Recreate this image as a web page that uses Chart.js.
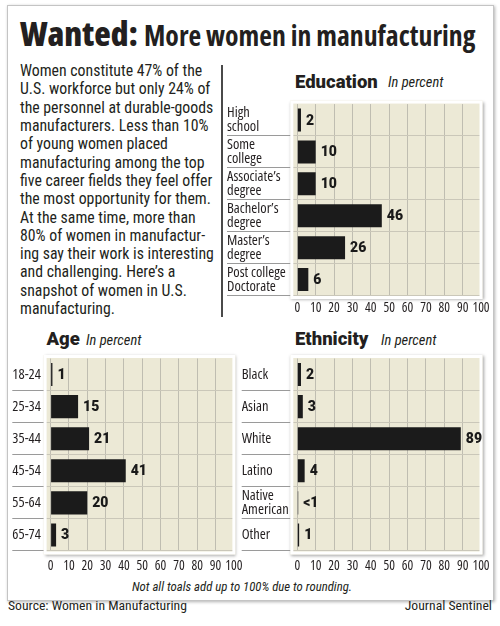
<!DOCTYPE html>
<html>
<head>
<meta charset="utf-8">
<script src="https://cdn.jsdelivr.net/npm/chart.js@4.4.1/dist/chart.umd.min.js"></script>
<style>
  body { margin: 0; width: 500px; height: 626px; overflow: hidden; background: #fff; color: #231f20;
         font-family: "Roboto Condensed", sans-serif; position: relative; }
  .t { position: absolute; line-height: 1; white-space: nowrap; }
  .frame { position: absolute; left: 7px; top: 5px; width: 485px; height: 594px; border: 1px solid #c4c4c4;
           box-shadow: 1px 1px 3px rgba(0,0,0,0.3); }
  .rule { position: absolute; left: 221px; top: 65px; width: 1.5px; height: 252px; background: #4a4a4a; }
  .big { font-family: "Open Sans", sans-serif; font-stretch: 75%; }
  .head { font-family: Roboto, sans-serif; font-weight: 900; font-size: 18.5px; }
  .sub { font-style: italic; font-size: 14.5px; }
  #story { position: absolute; left: 20px; top: 62.2px; font-size: 15.8px; line-height: 18.3px; white-space: nowrap; }
  canvas { position: absolute; }
</style>
</head>
<body>
<div class="frame"></div>
<div class="t big" style="left:20px;top:16px;font-size:34px;font-weight:800;">Wanted:</div>
<div class="t big" style="left:144px;top:21.9px;font-size:27.7px;font-weight:700;">More women in manufacturing</div>

<div id="story">Women constitute 47% of the<br>U.S. workforce but only 24% of<br>the personnel at durable-goods<br>manufacturers. Less than 10%<br>of young women placed<br>manufacturing among the top<br>five career fields they feel offer<br>the most opportunity for them.<br>At the same time, more than<br>80% of women in manufactur-<br>ing say their work is interesting<br>and challenging. Here’s a<br>snapshot of women in U.S.<br>manufacturing.</div>
<div class="rule"></div>

<div class="t head" style="left:295px;top:72.7px;">Education</div>
<div class="t sub" style="left:388px;top:75.8px;">In percent</div>
<div class="t head" style="left:46.5px;top:330.4px;">Age</div>
<div class="t sub" style="left:86px;top:333.8px;">In percent</div>
<div class="t head" style="left:295px;top:330.4px;">Ethnicity</div>
<div class="t sub" style="left:381px;top:333.8px;">In percent</div>

<div class="t sub" style="left:0;width:484px;text-align:center;top:581px;font-size:12.8px;">Not all toals add up to 100% due to rounding.</div>
<div class="t" style="left:8px;top:598.5px;font-size:13.7px;">Source: Women in Manufacturing</div>
<div class="t" style="right:8px;top:598.5px;font-size:13.7px;">Journal Sentinel</div>

<canvas id="edu" width="280" height="235" style="left:220px;top:90px;"></canvas>
<canvas id="age" width="250" height="240" style="left:0;top:348px;"></canvas>
<canvas id="eth" width="270" height="240" style="left:230px;top:348px;"></canvas>

<script>
const xTicks = [0, 10, 20, 30, 40, 50, 60, 70, 80, 90, 100];

const eduLabels = [['High', 'school'], ['Some', 'college'], ['Associate’s', 'degree'],
                   ['Bachelor’s', 'degree'], ['Master’s', 'degree'], ['Post college', 'Doctorate']];
const eduValues = [2, 10, 10, 46, 26, 6];
const eduText = ['2', '10', '10', '46', '26', '6'];

const ageLabels = ['18-24', '25-34', '35-44', '45-54', '55-64', '65-74'];
const ageValues = [1, 15, 21, 41, 20, 3];
const ageText = ['1', '15', '21', '41', '20', '3'];

const ethLabels = ['Black', 'Asian', 'White', 'Latino', ['Native', 'American'], 'Other'];
const ethValues = [2, 3, 89, 4, 0.5, 1];
const ethText = ['2', '3', '89', '4', '<1', '1'];

// "condensed" goes into the canvas font string as font-stretch
const labelFont = { family: '"Open Sans", sans-serif', weight: 'condensed', size: 14.5, lineHeight: 0.97 };
const tickFont = { family: '"Open Sans", sans-serif', weight: 'condensed', size: 13.5 };

// beige plot box with white edge
const boxPlugin = {
  id: 'box',
  beforeDraw(chart) {
    const a = chart.chartArea, c = chart.ctx;
    c.save();
    c.shadowColor = 'rgba(0,0,0,0.35)';
    c.shadowBlur = 3;
    c.shadowOffsetX = 1;
    c.shadowOffsetY = 1;
    c.fillStyle = '#ece9d6';
    c.fillRect(a.left - 1.5, a.top - 3.5, a.width + 3, a.height + 7);
    c.restore();
  },
  afterDatasetsDraw(chart) {
    const a = chart.chartArea, c = chart.ctx;
    c.save();
    c.strokeStyle = '#fff';
    c.lineWidth = 3;
    c.strokeRect(a.left, a.top - 2, a.width, a.height + 4);
    c.restore();
  }
};

// numbers at the end of the bars
const valuePlugin = {
  id: 'values',
  afterDatasetsDraw(chart, args, opts) {
    const c = chart.ctx;
    const meta = chart.getDatasetMeta(0);
    c.save();
    c.font = '900 14px Roboto, sans-serif';
    c.fillStyle = '#1a1a1a';
    c.textBaseline = 'middle';
    meta.data.forEach((bar, i) => c.fillText(opts.texts[i], bar.x + 5, bar.y + 1));
    c.restore();
  }
};

function makeChart(id, labels, values, texts, cfg) {
  const n = labels.length;
  return new Chart(document.getElementById(id), {
    type: 'bar',
    data: {
      labels: labels,
      datasets: [{ data: values, backgroundColor: '#1b1b1b', barPercentage: 0.72, categoryPercentage: 1 }]
    },
    options: {
      indexAxis: 'y',
      responsive: false,
      animation: false,
      devicePixelRatio: 1,
      layout: { padding: { left: cfg.padLeft, top: cfg.padTop, right: cfg.padRight, bottom: 0 } },
      plugins: { legend: { display: false }, tooltip: { enabled: false }, values: { texts: texts } },
      scales: {
        x: {
          type: 'linear', min: -3, max: 100,
          afterBuildTicks: s => { s.ticks = xTicks.map(v => ({ value: v })); },
          afterFit: s => { s.height = cfg.xHeight; },
          border: { display: false },
          grid: { color: '#bfbdb1', drawTicks: false },
          ticks: { autoSkip: false, maxRotation: 0, padding: cfg.tickPad, color: '#231f20', font: tickFont }
        },
        y: {
          afterFit: s => { s.width = cfg.yWidth; },
          border: { display: false },
          grid: {
            tickLength: cfg.yWidth,
            color: c => (c.index === 0 || c.index === n) ? 'rgba(0,0,0,0)' : '#cac7b9',
            tickColor: c => (c.index === 0 || c.index === n) ? 'rgba(0,0,0,0)' : '#9a9a9a'
          },
          ticks: { crossAlign: 'far', padding: 0, color: '#231f20', font: labelFont }
        }
      }
    },
    plugins: [boxPlugin, valuePlugin]
  });
}

makeChart('edu', eduLabels, eduValues, eduText,
  { padLeft: 7, padTop: 11.5, padRight: 19, yWidth: 64.8, xHeight: 29.5, tickPad: 5 });
makeChart('age', ageLabels, ageValues, ageText,
  { padLeft: 12.3, padTop: 10.5, padRight: 15.7, yWidth: 32.8, xHeight: 37, tickPad: 7.5 });
makeChart('eth', ethLabels, ethValues, ethText,
  { padLeft: 11.7, padTop: 10.5, padRight: 19, yWidth: 50.1, xHeight: 37, tickPad: 7.5 });
</script>
</body>
</html>
